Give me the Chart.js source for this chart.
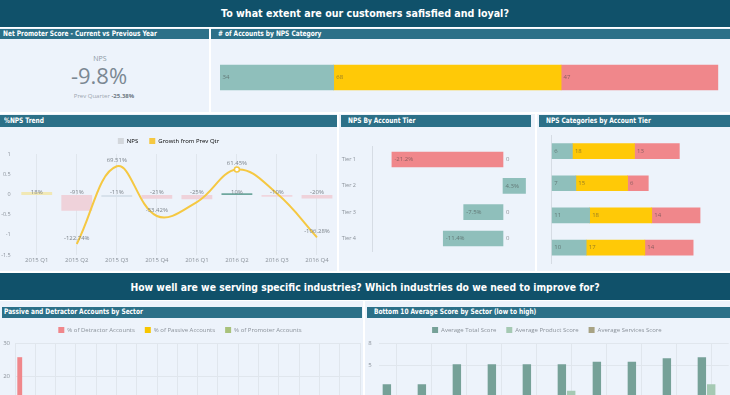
<!DOCTYPE html>
<html>
<head>
<meta charset="utf-8">
<script src="https://cdn.jsdelivr.net/npm/chart.js@4.4.1/dist/chart.umd.min.js"></script>
<style>
body { margin: 0; background: #fff; font-family: "Open Sans", sans-serif; }
#page { position: relative; width: 730px; height: 395px; overflow: hidden; background: #fff; }
.hdr { position: absolute; left: 0; width: 730px; background: #10516a; color: #fff; text-align: center; white-space: nowrap;
       font-family: "DejaVu Sans Condensed", "DejaVu Sans", sans-serif; font-weight: bold; }
.panel { position: absolute; background: #edf3fb; }
.ttl { position: absolute; background: #2c7088; color: #fff; font-weight: bold; font-size: 7.5px; white-space: nowrap;
       font-family: "DejaVu Sans Condensed", "DejaVu Sans", sans-serif; box-sizing: border-box; }
.ttl span { display: inline-block; transform: scaleX(0.87); transform-origin: left center; }
.txt { position: absolute; text-align: center; white-space: nowrap; }
canvas { position: absolute; }
</style>
</head>
<body>
<div id="page">
  <div class="hdr" style="top:0;height:27px;line-height:27px;font-size:10.6px">To what extent are our customers safisfied and loyal?</div>

  <div class="panel" style="left:0;top:28px;width:209px;height:84px"></div>
  <div class="panel" style="left:211px;top:28px;width:519px;height:84px"></div>
  <div class="panel" style="left:0;top:114px;width:337px;height:157px"></div>
  <div class="panel" style="left:339px;top:114px;width:196px;height:157px"></div>
  <div class="panel" style="left:537px;top:114px;width:193px;height:157px"></div>

  <div class="hdr" style="top:273px;height:27px;line-height:29px;font-size:10.3px">How well are we serving specific industries? Which industries do we need to improve for?</div>

  <div class="panel" style="left:0;top:301px;width:363px;height:94px"></div>
  <div class="panel" style="left:365px;top:301px;width:365px;height:94px"></div>

  <div class="ttl" style="left:0;top:29px;width:209px;height:10px;line-height:10px;padding-left:3px"><span>Net Promoter Score - Current vs Previous Year</span></div>
  <div class="ttl" style="left:211px;top:29px;width:519px;height:10px;line-height:10px;padding-left:7px"><span># of Accounts by NPS Category</span></div>
  <div class="ttl" style="left:0;top:115px;width:337px;height:12px;line-height:12px;padding-left:4px"><span>%NPS Trend</span></div>
  <div class="ttl" style="left:341px;top:115px;width:190px;height:12px;line-height:12px;padding-left:7px"><span>NPS By Account Tier</span></div>
  <div class="ttl" style="left:539px;top:115px;width:191px;height:12px;line-height:12px;padding-left:7px"><span>NPS Categories by Account Tier</span></div>
  <div class="ttl" style="left:2px;top:307px;width:360px;height:10.5px;line-height:10.5px;padding-left:2px"><span>Passive and Detractor Accounts by Sector</span></div>
  <div class="ttl" style="left:367px;top:307px;width:363px;height:10.5px;line-height:10.5px;padding-left:7px"><span>Bottom 10 Average Score by Sector (low to high)</span></div>

  <div class="txt" style="left:0;width:200px;top:55px;font-size:7px;line-height:8px;color:#8c98a2">NPS</div>
  <div class="txt" style="left:0;width:198px;top:64px;font-size:22px;line-height:22px;color:#7b8893">-9.8%</div>
  <div class="txt" style="left:0;width:208px;top:92.5px;font-size:6px;line-height:7px;color:#9ba5ae">Prev Quarter <b style="color:#6f7a84">-25.38%</b></div>

  <canvas id="accounts" width="519" height="73" style="left:211px;top:41px"></canvas>
  <canvas id="trend" width="337" height="144" style="left:0;top:127px"></canvas>
  <canvas id="tier" width="195" height="144" style="left:340px;top:127px"></canvas>
  <canvas id="tierCats" width="193" height="144" style="left:537px;top:127px"></canvas>
  <canvas id="sectors" width="363" height="160" style="left:0;top:317px"></canvas>
  <canvas id="bottom10" width="365" height="150" style="left:365px;top:317px"></canvas>
</div>

<script>
// ---- data ----
var npsCategories = ['Promoters', 'Passives', 'Detractors'];
var accountCounts = [34, 68, 47];

var quarters = ['2015 Q1', '2015 Q2', '2015 Q3', '2015 Q4', '2016 Q1', '2016 Q2', '2016 Q3', '2016 Q4'];
var npsByQuarter = [18, -91, -11, -21, -25, 10, -10, -20];
var growthFromPrev = [null, -1.2274, 0.6951, -0.5342, -0.19, 0.6145, 0.02, -1.0628];
var growthLabelShown = [false, true, true, true, false, true, false, true];

var tiers = ['Tier 1', 'Tier 2', 'Tier 3', 'Tier 4'];
var npsByTier = [-21.2, 4.3, -7.5, -11.4];
var promotersByTier = [6, 7, 11, 10];
var passivesByTier = [18, 15, 18, 17];
var detractorsByTier = [13, 6, 14, 14];

var sectors = ['Aerospace', 'Agriculture', 'Automotive', 'Banking', 'Chemicals', 'Construction', 'Education', 'Energy',
  'Healthcare', 'Hospitality', 'Insurance', 'Logistics', 'Manufacturing', 'Media', 'Pharma', 'Retail', 'Telecom'];
var detractorPct = [25.7, 12.5, 11.0, 9.8, 13.2, 8.6, 10.4, 7.9, 12.0, 6.5, 9.1, 11.8, 8.2, 10.7, 7.3, 12.9, 9.5];
var passivePct = [12.8, 13.1, 10.2, 11.6, 9.4, 12.2, 8.8, 13.0, 10.9, 11.3, 12.6, 9.9, 13.3, 10.1, 11.8, 9.2, 12.4];
var promoterPct = [4.2, 6.5, 8.1, 5.3, 7.7, 9.6, 6.1, 8.8, 5.9, 10.4, 7.2, 6.8, 9.1, 5.5, 8.3, 7.4, 6.2];
var sectorTicks = [0, 10, 20, 30];

var bottomSectors = ['Telecom', 'Utilities', 'Retail', 'Media', 'Logistics', 'Insurance', 'Hospitality', 'Energy', 'Education', 'Banking'];
var avgTotalScore = [2.37, 2.37, 5.1, 5.1, 5.1, 5.1, 5.46, 5.46, 5.92, 6.06];
var avgProductScore = [0.6, 0.5, 0.7, 0.4, 0.8, 1.5, 0.6, 0.7, 0.5, 2.37];
var avgServicesScore = [0.3, 0.5, 0.4, 0.6, 0.2, 0.7, 0.5, 0.4, 0.8, 0.6];
var scoreTicks = [0, 5, 8];

// ---- colours ----
var teal = '#8fbfbb', yellow = '#ffc907', pink = '#f0878b';
var npsBarColors = ['#f1e8b5', '#efd2da', '#d7e1eb', '#efd2da', '#efd2da', '#6ea79e', '#f0d6de', '#efd2da'];

Chart.defaults.font.family = '"Open Sans", sans-serif';
Chart.defaults.font.size = 6;
Chart.defaults.color = '#8b929a';
Chart.defaults.animation = false;
Chart.defaults.responsive = false;
Chart.defaults.devicePixelRatio = 1;
Chart.defaults.plugins.tooltip.enabled = false;

var gridColor = '#e0e6ed';

// writes each bar value at the left end of its segment
function leftLabels(suffix, zeroMark) {
  return {
    id: 'leftLabels',
    afterDatasetsDraw: function(chart) {
      var ctx = chart.ctx;
      ctx.save();
      ctx.font = '6px "Open Sans"';
      ctx.fillStyle = 'rgba(60,60,60,0.55)';
      ctx.textBaseline = 'middle';
      ctx.textAlign = 'left';
      chart.data.datasets.forEach(function(ds, d) {
        chart.getDatasetMeta(d).data.forEach(function(bar, i) {
          var v = ds.data[i];
          ctx.fillText(v + suffix, Math.min(bar.x, bar.base) + 2.5, bar.y);
          if (zeroMark && v < 0) ctx.fillText('0', bar.base + 3, bar.y);
        });
      });
      ctx.restore();
    }
  };
}

function fixedTicks(values) {
  return function(scale) {
    scale.ticks = values.map(function(v) { return { value: v }; });
  };
}

// # of accounts by NPS category
new Chart(document.getElementById('accounts'), {
  type: 'bar',
  data: {
    labels: ['Accounts'],
    datasets: npsCategories.map(function(c, i) {
      return { label: c, data: [accountCounts[i]], backgroundColor: [teal, yellow, pink][i], barThickness: 25 };
    })
  },
  options: {
    indexAxis: 'y',
    layout: { padding: { left: 9, right: 11.7, top: 0, bottom: 0 } },
    plugins: { legend: { display: false } },
    scales: {
      x: { stacked: true, display: false, min: 0, max: accountCounts.reduce(function(a, b) { return a + b; }, 0) },
      y: { stacked: true, display: false }
    }
  },
  plugins: [leftLabels('', false)]
});

// %NPS trend
var trendLegendColors = ['#d3d7dc', '#f5c842'];
var trendLabels = {
  id: 'trendLabels',
  afterDatasetsDraw: function(chart) {
    var ctx = chart.ctx;
    ctx.save();
    ctx.font = '6px "Open Sans"';
    ctx.fillStyle = '#7d848b';
    ctx.textAlign = 'center';
    ctx.textBaseline = 'middle';
    chart.getDatasetMeta(0).data.forEach(function(bar, i) {
      ctx.fillText(npsByQuarter[i] + '%', bar.x, bar.base - 2.5);
    });
    chart.getDatasetMeta(1).data.forEach(function(pt, i) {
      if (growthLabelShown[i]) ctx.fillText((growthFromPrev[i] * 100).toFixed(2) + '%', pt.x, pt.y - 6);
    });
    ctx.restore();
  }
};
new Chart(document.getElementById('trend'), {
  type: 'bar',
  data: {
    labels: quarters,
    datasets: [
      { type: 'bar', label: 'NPS', data: npsByQuarter, yAxisID: 'yBar', backgroundColor: npsBarColors,
        barPercentage: 0.77, categoryPercentage: 1, order: 1 },
      { type: 'line', label: 'Growth from Prev Qtr', data: growthFromPrev, yAxisID: 'y', borderColor: '#f5c842',
        borderWidth: 2, tension: 0.4, pointRadius: [0, 0, 0, 0, 0, 2.5, 0, 0], pointBackgroundColor: '#fff',
        pointBorderColor: '#f5c842', pointBorderWidth: 1.5, order: -1 }
    ]
  },
  options: {
    layout: { padding: { left: 0, right: 0, top: 0, bottom: 4.8 } },
    plugins: {
      legend: {
        labels: {
          boxWidth: 6, boxHeight: 6, padding: 11,
          generateLabels: function(chart) {
            return chart.data.datasets.map(function(ds, i) {
              return { text: ds.label, fillStyle: trendLegendColors[i], strokeStyle: trendLegendColors[i], lineWidth: 0, datasetIndex: i };
            });
          }
        }
      }
    },
    scales: {
      x: { grid: { offset: false, color: gridColor, drawTicks: false }, border: { display: false },
           ticks: { padding: 2, font: { size: 6 } } },
      y: { position: 'left', min: -1.5, max: 1,
           ticks: { stepSize: 0.5, padding: 6, font: { size: 5.5 }, callback: function(v) { return String(+v.toFixed(2)); } },
           grid: { display: false, drawTicks: false }, border: { display: false },
           afterFit: function(s) { s.width = 16.7; } },
      yBar: { display: false, min: -350, max: 240 }
    }
  },
  plugins: [trendLabels]
});

// NPS by account tier
new Chart(document.getElementById('tier'), {
  type: 'bar',
  data: {
    labels: tiers,
    datasets: [{ label: 'NPS', data: npsByTier, backgroundColor: npsByTier.map(function(v, i) { return i === 0 ? pink : teal; }),
      barThickness: 15 }]
  },
  options: {
    indexAxis: 'y',
    layout: { padding: { left: 0, right: 5.8, top: 8, bottom: 7.3 } },
    plugins: { legend: { display: false } },
    scales: {
      x: { display: false, min: -25, max: 5 },
      y: { ticks: { padding: 16, font: { size: 5.5 } }, grid: { color: 'rgba(0,0,0,0)', drawTicks: false },
           border: { color: '#d6dce4' }, afterFit: function(s) { s.width = 32; } }
    }
  },
  plugins: [leftLabels('%', true)]
});

// NPS categories by account tier
new Chart(document.getElementById('tierCats'), {
  type: 'bar',
  data: {
    labels: tiers,
    datasets: [
      { label: 'Promoters', data: promotersByTier, backgroundColor: teal, barThickness: 15 },
      { label: 'Passives', data: passivesByTier, backgroundColor: yellow, barThickness: 15 },
      { label: 'Detractors', data: detractorsByTier, backgroundColor: pink, barThickness: 15 }
    ]
  },
  options: {
    indexAxis: 'y',
    layout: { padding: { left: 0, right: 5.8, top: 8, bottom: 7.3 } },
    plugins: { legend: { display: false } },
    scales: {
      x: { stacked: true, display: false, min: 0, max: 50 },
      y: { stacked: true, ticks: { display: false }, grid: { color: 'rgba(0,0,0,0)', drawTicks: false },
           border: { color: '#d6dce4' }, afterFit: function(s) { s.width = 14.7; } }
    }
  },
  plugins: [leftLabels('', false)]
});

// Passive and detractor accounts by sector
new Chart(document.getElementById('sectors'), {
  type: 'bar',
  data: {
    labels: sectors,
    datasets: [
      { label: '% of Detractor Accounts', data: detractorPct, backgroundColor: pink },
      { label: '% of Passive Accounts', data: passivePct, backgroundColor: '#f7c600' },
      { label: '% of Promoter Accounts', data: promoterPct, backgroundColor: '#a9c27b' }
    ]
  },
  options: {
    layout: { padding: { left: 0, right: 3, top: 0, bottom: 5 } },
    plugins: { legend: { labels: { boxWidth: 6, boxHeight: 6, padding: 10 } } },
    scales: {
      x: { grid: { color: gridColor, drawTicks: false }, border: { display: false },
           ticks: { padding: 3 }, afterFit: function(s) { s.height = 30; } },
      y: { min: 0, max: 30, ticks: { padding: 5 }, afterBuildTicks: fixedTicks(sectorTicks),
           grid: { color: gridColor, drawTicks: false }, border: { display: false },
           afterFit: function(s) { s.width = 15; } }
    }
  }
});

// Bottom 10 average score by sector
new Chart(document.getElementById('bottom10'), {
  type: 'bar',
  data: {
    labels: bottomSectors,
    datasets: [
      { label: 'Average Total Score', data: avgTotalScore, backgroundColor: '#76a198' },
      { label: 'Average Product Score', data: avgProductScore, backgroundColor: '#a5c9b3' },
      { label: 'Average Services Score', data: avgServicesScore, backgroundColor: '#a8a384' }
    ]
  },
  options: {
    layout: { padding: { left: 0, right: 1.3, top: 0, bottom: 35.3 } },
    plugins: { legend: { labels: { boxWidth: 6, boxHeight: 6, padding: 10 } } },
    scales: {
      x: { grid: { offset: false, color: gridColor, drawTicks: false }, border: { display: false },
           ticks: { padding: 3 }, afterFit: function(s) { s.height = 30; } },
      y: { min: 0, max: 8, ticks: { padding: 7 }, afterBuildTicks: fixedTicks(scoreTicks),
           grid: { color: gridColor, drawTicks: false }, border: { display: false },
           afterFit: function(s) { s.width = 13.7; } }
    }
  }
});
</script>
</body>
</html>
